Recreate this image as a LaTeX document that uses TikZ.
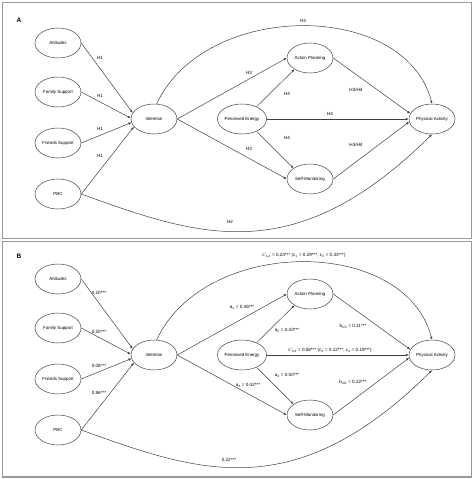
\documentclass[tikz,border=0pt]{standalone}
\usepackage{fontspec}
\setmainfont{Liberation Sans}
\usetikzlibrary{shapes.geometric,arrows.meta,calc}

\begin{document}
\begin{tikzpicture}[x=1pt,y=-1pt,
  var/.style={draw=black!75,ellipse,line width=0.5pt,minimum width=46pt,minimum height=30pt,inner sep=0pt,font=\fontsize{4.4}{5}\selectfont},
  path/.style={-{Latex[length=3pt,width=2.4pt]},black!75,line width=0.5pt},
  lbl/.style={font=\fontsize{4.6}{5}\selectfont,inner sep=0.5pt},
  tag/.style={font=\bfseries\fontsize{6.5}{7}\selectfont},
  panel/.style={draw=black!40,line width=1.2pt}
]
\useasboundingbox (0,0) rectangle (474,479);

% panel frames
\draw[panel] (2.5,2.5) rectangle (471.5,238.5);
\draw[panel] (2.5,241.5) rectangle (471.5,477);

% same model in both panels
\foreach \p/\dy in {A/0,B/236}{
  \node[tag] (\p-tag) at (19,20+\dy) {\p};

  \node[var] (\p-att) at (58,43+\dy)  {Attitudes};
  \node[var] (\p-fam) at (58,92+\dy)  {Family Support};
  \node[var] (\p-fri) at (58,143+\dy) {Friends Support};
  \node[var] (\p-pbc) at (58,194+\dy) {PBC};
  \node[var] (\p-int) at (154,119+\dy) {Intention};
  \node[var,minimum width=47pt] (\p-pe) at (242,119+\dy) {Perceived Energy};
  \node[var] (\p-ap)  at (310,58+\dy)  {Action Planning};
  \node[var] (\p-sm)  at (310,179+\dy) {Self-Monitoring};
  \node[var] (\p-pa)  at (432,119+\dy) {Physical Activity};

  \draw[path] (\p-att.east) -- (\p-int.164);
  \draw[path] (\p-fam.east) -- (\p-int.178);
  \draw[path] (\p-fri.east) -- (\p-int.189);
  \draw[path] (\p-pbc.east) -- (\p-int.201);
  \draw[path] (\p-int.east) -- (\p-ap.west);
  \draw[path] (\p-int.east) -- (\p-sm.west);
  \draw[path] (\p-pe.40) -- (\p-ap.216);
  \draw[path] (\p-pe.320) -- (\p-sm.147);
  \draw[path] (\p-pe.east) -- (\p-pa.west);
  \draw[path] (\p-ap.east) -- (\p-pa.166);
  \draw[path] (\p-sm.east) -- (\p-pa.187);
  \draw[path] (\p-int.80) .. controls (205,0+\dy) and (405,0+\dy) .. (\p-pa.north);
  \draw[path] (\p-pbc.east) .. controls (200,237+\dy) and (295,270+\dy) .. (\p-pa.south);
}

% A: hypotheses
\node[lbl] (A-h1a) at (100,58)  {H1};
\node[lbl] (A-h1b) at (100,96)  {H1};
\node[lbl] (A-h1c) at (100,129) {H1};
\node[lbl] (A-h1d) at (100,156) {H1};
\node[lbl] (A-h3c) at (303,21)  {H3};
\node[lbl] (A-h2)  at (230,222) {H2};
\node[lbl] (A-h3a) at (249,73)  {H3};
\node[lbl] (A-h3b) at (249,149) {H3};
\node[lbl] (A-h4a) at (287,94)  {H4};
\node[lbl] (A-h4b) at (330,114) {H4};
\node[lbl] (A-h4c) at (287,138) {H4};
\node[lbl] (A-h34a) at (356,90)  {H3/H4};
\node[lbl] (A-h34b) at (356,145) {H3/H4};

% B: estimates
\node[lbl] (B-att) at (99,293) {0.20***};
\node[lbl] (B-fam) at (99,332) {0.20***};
\node[lbl] (B-fri) at (99,366) {0.08***};
\node[lbl] (B-pbc) at (99,393) {0.86***};
\node[lbl] (B-dir) at (229,460) {0.22***};
\node[lbl] (B-c12) at (304,256) {c'\textsubscript{1,2} = 0.23*** (c\textsubscript{1} = 0.29***, c\textsubscript{2} = 0.33***)};
\node[lbl] (B-a1)  at (242,307) {a\textsubscript{1} = 0.46***};
\node[lbl] (B-a2)  at (287,330) {a\textsubscript{2} = 0.43***};
\node[lbl] (B-c34) at (330,351) {c'\textsubscript{3,4} = 0.08*** (c\textsubscript{3} = 0.12***, c\textsubscript{4} = 0.19***)};
\node[lbl] (B-a4)  at (287,375) {a\textsubscript{4} = 0.50***};
\node[lbl] (B-a3)  at (248,385) {a\textsubscript{3} = 0.42***};
\node[lbl] (B-b13) at (353,326) {b\textsubscript{1/3} = 0.11***};
\node[lbl] (B-b24) at (353,382) {b\textsubscript{2/4} = 0.22***};
\end{tikzpicture}
\end{document}
